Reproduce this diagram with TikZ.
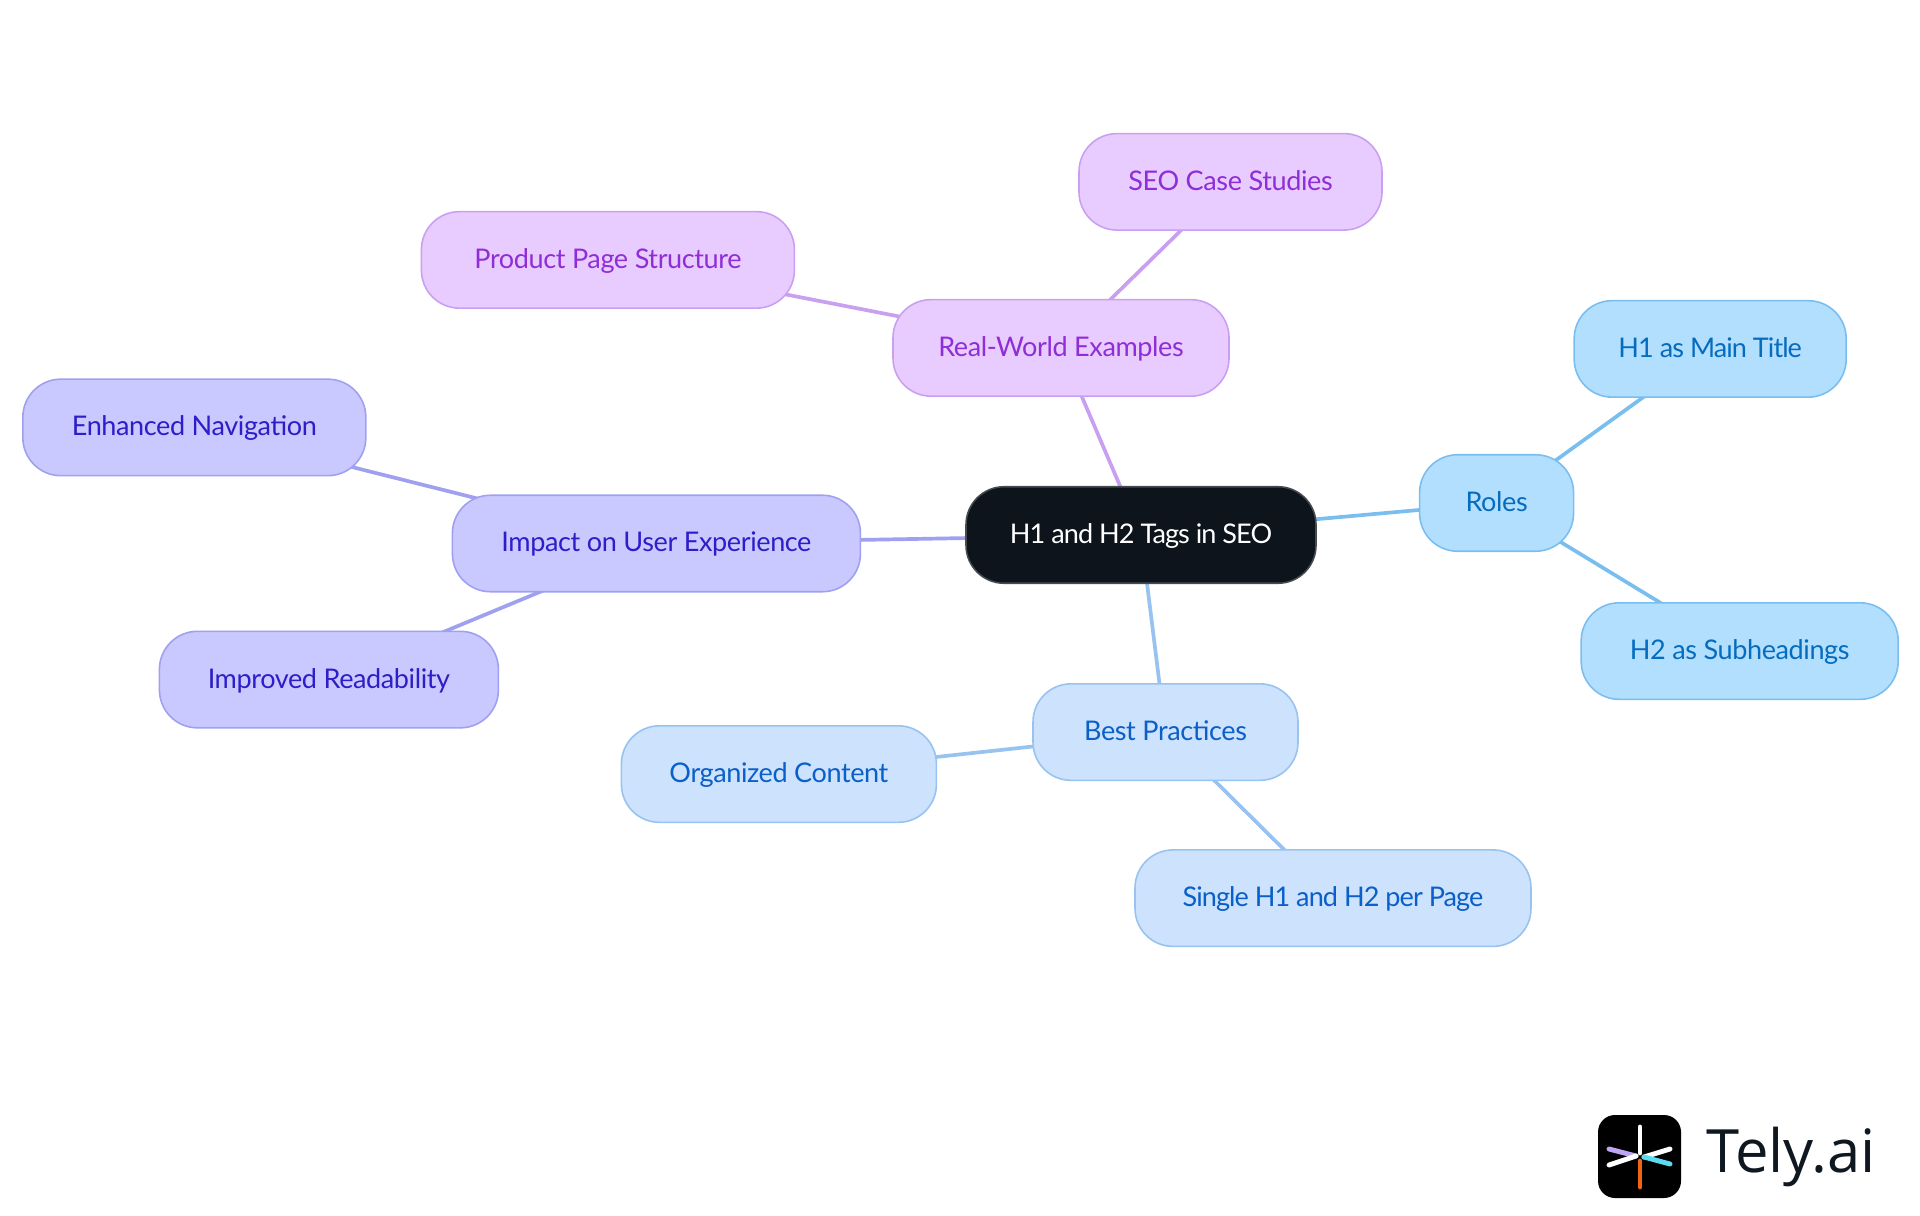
\documentclass[tikz,border=0pt]{standalone}
\usepackage{fontspec}
\setmainfont{Lato}[LetterSpace=-1.5]
\newfontfamily\brandfont{Open Sans}
\usetikzlibrary{arrows.meta,positioning,backgrounds}
\definecolor{rootfill}{RGB}{13,20,28}
\definecolor{rootline}{RGB}{70,75,82}
\definecolor{skyfill}{RGB}{179,223,255}
\definecolor{skyline}{RGB}{122,190,240}
\definecolor{skytext}{RGB}{6,108,190}
\definecolor{bluefill}{RGB}{204,226,253}
\definecolor{blueline}{RGB}{152,195,240}
\definecolor{bluetext}{RGB}{10,95,200}
\definecolor{indigofill}{RGB}{201,201,255}
\definecolor{indigoline}{RGB}{160,160,240}
\definecolor{indigotext}{RGB}{45,30,200}
\definecolor{purplefill}{RGB}{232,204,255}
\definecolor{purpleline}{RGB}{201,160,240}
\definecolor{purpletext}{RGB}{143,45,215}
\definecolor{logodark}{RGB}{15,23,32}
\definecolor{logopurple}{RGB}{190,165,245}
\definecolor{logoorange}{RGB}{240,100,20}
\definecolor{logocyan}{RGB}{90,220,240}

\begin{document}
\begin{tikzpicture}[
    topic/.style={rectangle, rounded corners=0.38cm, minimum height=0.965cm, inner sep=0pt, text height=0.17cm, text depth=0cm, line width=0.45pt, font=\fontsize{7.7}{9}\selectfont},
    tight/.style={font=\fontsize{7.7}{9}\selectfont\addfontfeatures{LetterSpace=-3.5}},
    root/.style={topic, tight, draw=rootline, fill=rootfill, text=white},
    sky/.style={topic, draw=skyline, fill=skyfill, text=skytext},
    blue/.style={topic, draw=blueline, fill=bluefill, text=bluetext},
    indigo/.style={topic, draw=indigoline, fill=indigofill, text=indigotext},
    purple/.style={topic, draw=purpleline, fill=purplefill, text=purpletext},
    link/.style={line width=1.05pt},
    spoke/.style={line width=1.4pt, line cap=round}
]
    \useasboundingbox (0,0) rectangle (19.2,12.15);

    \node[root, minimum width=3.5cm] (seo) at (11.41,6.80) {H1 and H2 Tags in SEO};

    \node[sky, minimum width=1.54cm, right=1.02cm of seo, yshift=0.32cm] (roles) {Roles};
    \node[sky, tight, minimum width=2.72cm, above right=0.56cm and -0.01cm of roles] (main) {H1 as Main Title};
    \node[sky, minimum width=3.17cm, below right=0.50cm and 0.06cm of roles] (subs) {H2 as Subheadings};

    \node[blue, minimum width=2.65cm, below=0.99cm of seo, xshift=0.245cm] (best) {Best Practices};
    \node[blue, minimum width=3.15cm, left=0.95cm of best, yshift=-0.42cm] (content) {Organized Content};
    \node[blue, tight, minimum width=3.96cm, below=0.68cm of best, xshift=1.675cm] (single) {Single H1 and H2 per Page};

    \node[indigo, minimum width=4.08cm, left=1.04cm of seo, yshift=-0.085cm] (impact) {Impact on User Experience};
    \node[indigo, minimum width=3.43cm, above left=0.18cm and 0.85cm of impact] (nav) {Enhanced Navigation};
    \node[indigo, minimum width=3.39cm, below=0.38cm of impact, xshift=-3.275cm] (read) {Improved Readability};

    \node[purple, minimum width=3.36cm, above=0.89cm of seo, xshift=-0.80cm] (real) {Real-World Examples};
    \node[purple, minimum width=3.73cm, left=0.97cm of real, yshift=0.88cm] (product) {Product Page Structure};
    \node[purple, minimum width=3.03cm, above=0.68cm of real, xshift=1.695cm] (cases) {SEO Case Studies};

    \begin{scope}[on background layer]
        \draw[link, skyline] (seo.center) -- (roles.center);
        \draw[link, skyline] (roles.center) -- (main.center);
        \draw[link, skyline] (roles.center) -- (subs.center);
        \draw[link, blueline] (seo.center) -- (best.center);
        \draw[link, blueline] (best.center) -- (content.center);
        \draw[link, blueline] (best.center) -- (single.center);
        \draw[link, indigoline] (seo.center) -- (impact.center);
        \draw[link, indigoline] (impact.center) -- (nav.center);
        \draw[link, indigoline] (impact.center) -- (read.center);
        \draw[link, purpleline] (seo.center) -- (real.center);
        \draw[link, purpleline] (real.center) -- (product.center);
        \draw[link, purpleline] (real.center) -- (cases.center);
    \end{scope}

    % logo
    \node[rectangle, fill=black, rounded corners=0.17cm, minimum size=0.83cm, inner sep=0pt] (icon) at (16.395,0.585) {};
    \draw[spoke, white] (16.40,0.88) -- (16.40,0.62);
    \draw[spoke, logoorange] (16.40,0.54) -- (16.40,0.28);
    \draw[spoke, logopurple] (16.09,0.66) -- (16.36,0.59);
    \draw[spoke, white] (16.09,0.50) -- (16.36,0.59);
    \draw[spoke, white] (16.70,0.66) -- (16.44,0.58);
    \draw[spoke, logocyan] (16.44,0.58) -- (16.70,0.51);
    \node[right=0.24cm of icon, inner sep=0pt, text=logodark, font=\brandfont\fontsize{17}{20}\selectfont] (brand) {Tely.ai};
\end{tikzpicture}
\end{document}
